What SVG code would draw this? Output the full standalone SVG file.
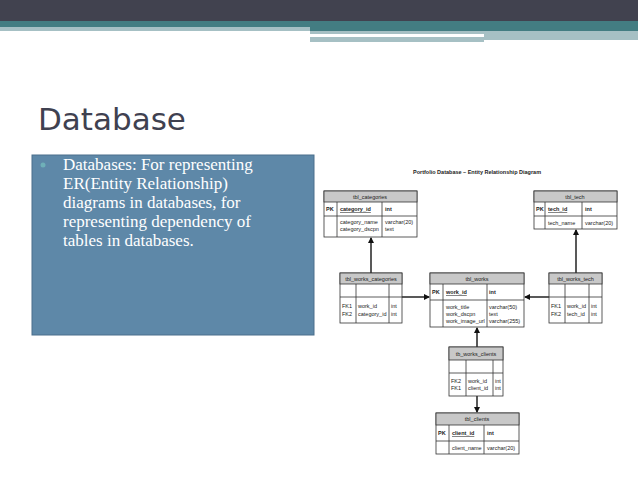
<svg xmlns="http://www.w3.org/2000/svg" width="638" height="478" viewBox="0 0 638 478">
<style>
.t{fill:#fff;stroke:#333;stroke-width:0.8}
.h{fill:#c8c8c8;stroke:#333;stroke-width:0.8}
.l{stroke:#333;stroke-width:0.8}
.s{font-family:"Liberation Sans",Arial,sans-serif;font-size:5.5px;fill:#222}
.b{font-weight:bold}
.c{stroke:#222;stroke-width:1.5;fill:none;marker-end:url(#a)}
.x{font-family:"Liberation Serif",serif;font-size:17px;fill:#fff}
</style>
<defs><marker id="a" markerWidth="6" markerHeight="6" refX="5" refY="3" orient="auto" markerUnits="userSpaceOnUse" viewBox="0 0 6 6"><path d="M0,0L6,3L0,6z" fill="#111"/></marker></defs>
<rect width="638" height="478" fill="#fff"/>
<rect width="638" height="21" fill="#41424f"/>
<rect y="21" width="638" height="6" fill="#437d82"/>
<rect y="27" width="310" height="4" fill="#a6c0c4"/>
<rect x="310" y="27" width="328" height="4" fill="#437d82"/>
<rect x="310" y="31" width="328" height="3" fill="#a6c0c4"/>
<rect x="484" y="34" width="154" height="6" fill="#a6c0c4"/>
<rect x="310" y="37" width="174" height="5" fill="#a6c0c4"/>
<text x="38" y="130" font-family="DejaVu Sans,sans-serif" font-size="31" fill="#3f4150">Database</text>
<g id="textbox">
<rect x="32" y="155" width="282" height="180" fill="#5e88a8" stroke="#4a6f8c"/>
<circle cx="43" cy="165" r="2.5" fill="#6fb0b8"/>
<text class="x" x="63" y="170">Databases: For representing</text>
<text class="x" x="63" y="189">ER(Entity Relationship)</text>
<text class="x" x="63" y="208">diagrams in databases, for</text>
<text class="x" x="63" y="227">representing dependency of</text>
<text class="x" x="63" y="246">tables in databases.</text>
</g>
<text class="s b" x="477" y="174" font-size="8.5" text-anchor="middle">Portfolio Database – Entity Relationship Diagram</text>
<g id="connectors">
<line class="c" x1="371" y1="273" x2="371" y2="238"/>
<line class="c" x1="576" y1="273" x2="576" y2="230"/>
<line class="c" x1="402" y1="297" x2="429" y2="297"/>
<line class="c" x1="549" y1="297" x2="525" y2="297"/>
<line class="c" x1="477" y1="347" x2="477" y2="328"/>
<line class="c" x1="477" y1="396" x2="477" y2="412"/>
</g>
<g id="tbl_categories">
<rect class="t" x="324" y="191" width="93" height="46"/><rect class="h" x="324" y="191" width="93" height="11"/>
<line class="l" x1="324" y1="216" x2="417" y2="216"/><line class="l" x1="337" y1="202" x2="337" y2="237"/><line class="l" x1="382" y1="202" x2="382" y2="237"/>
<text class="s" x="370" y="198.5" text-anchor="middle">tbl_categories</text>
<text class="s b" x="326" y="211">PK</text><text class="s b" x="340" y="211" text-decoration="underline">category_id</text><text class="s b" x="385" y="211">int</text>
<text class="s" x="340" y="224">category_name</text><text class="s" x="385" y="224">varchar(20)</text>
<text class="s" x="340" y="231">category_dscpn</text><text class="s" x="385" y="231">text</text>
</g>
<g id="tbl_tech">
<rect class="t" x="534" y="191" width="83" height="38"/><rect class="h" x="534" y="191" width="83" height="11"/>
<line class="l" x1="534" y1="216" x2="617" y2="216"/><line class="l" x1="545" y1="202" x2="545" y2="229"/><line class="l" x1="582" y1="202" x2="582" y2="229"/>
<text class="s" x="575" y="198.5" text-anchor="middle">tbl_tech</text>
<text class="s b" x="536" y="211">PK</text><text class="s b" x="548" y="211" text-decoration="underline">tech_id</text><text class="s b" x="585" y="211">int</text>
<text class="s" x="548" y="225">tech_name</text><text class="s" x="585" y="225">varchar(20)</text>
</g>
<g id="tbl_works_categories">
<rect class="t" x="340" y="273" width="62" height="50"/><rect class="h" x="340" y="273" width="62" height="11"/>
<line class="l" x1="340" y1="297" x2="402" y2="297"/><line class="l" x1="356" y1="284" x2="356" y2="323"/><line class="l" x1="389" y1="284" x2="389" y2="323"/>
<text class="s" x="371" y="280.5" text-anchor="middle">tbl_works_categories</text>
<text class="s" x="342" y="308">FK1</text><text class="s" x="358" y="308">work_id</text><text class="s" x="391" y="308">int</text>
<text class="s" x="342" y="316">FK2</text><text class="s" x="358" y="316">category_id</text><text class="s" x="391" y="316">int</text>
</g>
<g id="tbl_works">
<rect class="t" x="430" y="273" width="94" height="54"/><rect class="h" x="430" y="273" width="94" height="11"/>
<line class="l" x1="430" y1="300" x2="524" y2="300"/><line class="l" x1="443" y1="284" x2="443" y2="327"/><line class="l" x1="487" y1="284" x2="487" y2="327"/>
<text class="s" x="477" y="280.5" text-anchor="middle">tbl_works</text>
<text class="s b" x="432" y="294">PK</text><text class="s b" x="446" y="294" text-decoration="underline">work_id</text><text class="s b" x="489" y="294">int</text>
<text class="s" x="446" y="309">work_title</text><text class="s" x="489" y="309">varchar(50)</text>
<text class="s" x="446" y="316">work_dscpn</text><text class="s" x="489" y="316">text</text>
<text class="s" x="446" y="323">work_image_url</text><text class="s" x="489" y="323">varchar(255)</text>
</g>
<g id="tbl_works_tech">
<rect class="t" x="549" y="273" width="53" height="50"/><rect class="h" x="549" y="273" width="53" height="11"/>
<line class="l" x1="549" y1="297" x2="602" y2="297"/><line class="l" x1="565" y1="284" x2="565" y2="323"/><line class="l" x1="589" y1="284" x2="589" y2="323"/>
<text class="s" x="575.5" y="280.5" text-anchor="middle">tbl_works_tech</text>
<text class="s" x="551" y="308">FK1</text><text class="s" x="567" y="308">work_id</text><text class="s" x="591" y="308">int</text>
<text class="s" x="551" y="316">FK2</text><text class="s" x="567" y="316">tech_id</text><text class="s" x="591" y="316">int</text>
</g>
<g id="tb_works_clients">
<rect class="t" x="449" y="347" width="54" height="49"/><rect class="h" x="449" y="347" width="54" height="13"/>
<line class="l" x1="449" y1="373" x2="503" y2="373"/><line class="l" x1="466" y1="360" x2="466" y2="396"/><line class="l" x1="493" y1="360" x2="493" y2="396"/>
<text class="s" x="476" y="355.5" text-anchor="middle">tb_works_clients</text>
<text class="s" x="451" y="383">FK2</text><text class="s" x="468" y="383">work_id</text><text class="s" x="495" y="383">int</text>
<text class="s" x="451" y="390">FK1</text><text class="s" x="468" y="390">client_id</text><text class="s" x="495" y="390">int</text>
</g>
<g id="tbl_clients">
<rect class="t" x="436" y="413" width="83" height="41"/><rect class="h" x="436" y="413" width="83" height="12"/>
<line class="l" x1="436" y1="441" x2="519" y2="441"/><line class="l" x1="449" y1="425" x2="449" y2="454"/><line class="l" x1="484" y1="425" x2="484" y2="454"/>
<text class="s" x="477" y="421" text-anchor="middle">tbl_clients</text>
<text class="s b" x="438" y="435">PK</text><text class="s b" x="452" y="435" text-decoration="underline">client_id</text><text class="s b" x="487" y="435">int</text>
<text class="s" x="452" y="450">client_name</text><text class="s" x="487" y="450">varchar(20)</text>
</g>
</svg>
